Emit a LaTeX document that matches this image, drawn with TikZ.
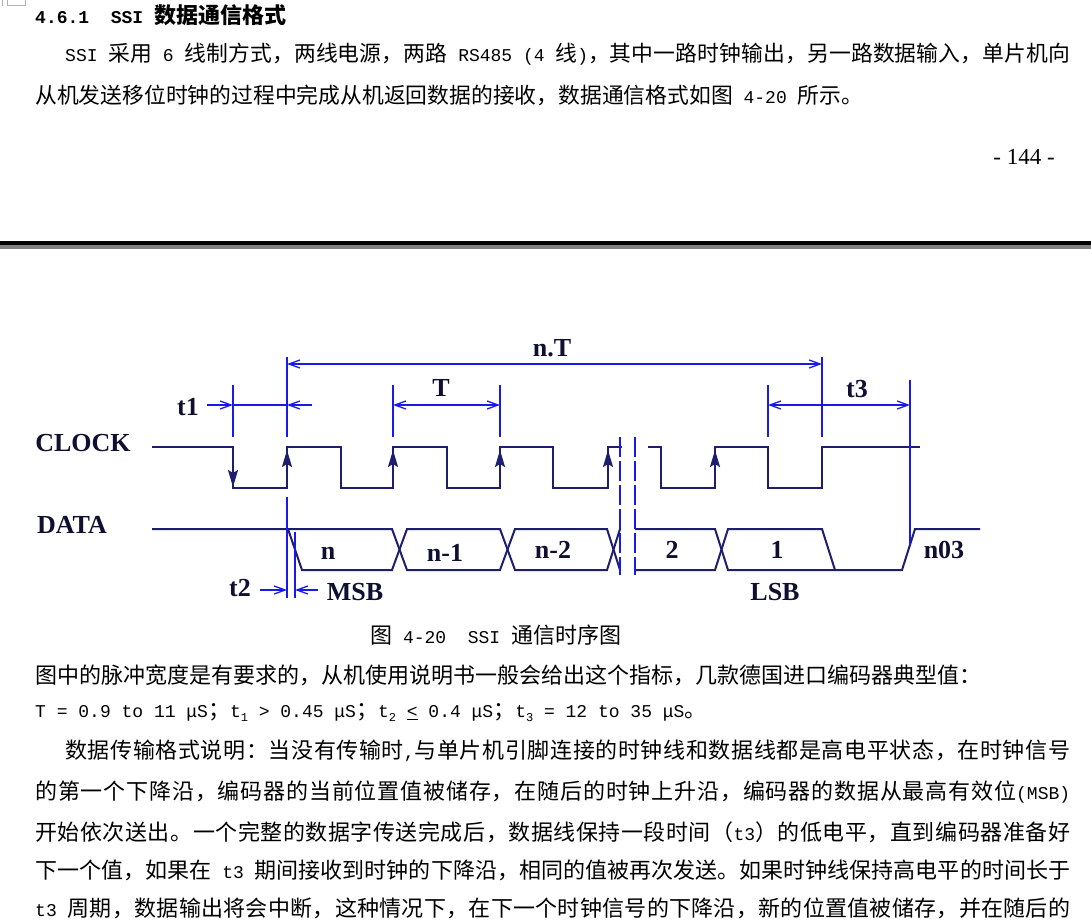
\documentclass[tikz,border=0pt]{standalone}
\usepackage{fontspec}
\setmainfont{Noto Sans CJK SC}
\newfontfamily\monofont{Liberation Mono}
\newfontfamily\timesfont{Liberation Serif}
\usetikzlibrary{arrows.meta}
% classes for CJK characters, so that justified lines can stretch
\newcount\cjkcode
\cjkcode="4E00
\loop \XeTeXcharclass\cjkcode=1 \advance\cjkcode by 1 \ifnum\cjkcode<"A000 \repeat
\XeTeXcharclass"FF0C=3 \XeTeXcharclass"FF1A=3 \XeTeXcharclass"FF1B=3
\XeTeXcharclass"3002=3 \XeTeXcharclass"FF09=3 \XeTeXcharclass"FF08=2
\newcommand\cjkglue{\hskip 0pt plus 1pt\relax}
\XeTeXinterchartokenstate=1
\XeTeXinterchartoks 1 1 = {\cjkglue}
\XeTeXinterchartoks 1 2 = {\cjkglue}
\XeTeXinterchartoks 1 3 = {\cjkglue}
\XeTeXinterchartoks 2 1 = {\cjkglue}
\XeTeXinterchartoks 3 1 = {\cjkglue}
\XeTeXinterchartoks 3 2 = {\cjkglue}
\XeTeXinterchartoks 0 1 = {\cjkglue}
\XeTeXinterchartoks 1 0 = {\cjkglue}
\XeTeXinterchartoks 3 0 = {\cjkglue}
\definecolor{wave}{RGB}{30,30,110}
\definecolor{dim}{RGB}{25,25,235}
\definecolor{lab}{RGB}{15,15,50}
\newcommand\hw[1]{{\monofont\fontsize{18}{18}\selectfont\spaceskip=\fontdimen2\font\xspaceskip=\fontdimen2\font\relax #1}}
\newcommand\sub[1]{\raisebox{-4pt}{\monofont\fontsize{12}{12}\selectfont #1}}
\tikzset{
  txt/.style={anchor=west, inner sep=0pt, font=\fontsize{22}{26}\selectfont},
  txtA/.style={txt, font=\fontsize{21.8}{26}\selectfont},
  lbl/.style={inner sep=0pt, text=lab, font=\timesfont\bfseries\fontsize{26}{26}\selectfont},
  sig/.style={draw=wave, line width=2pt, line join=miter},
  tick/.style={draw=dim, line width=2.6pt},
  dimline/.style={draw=dim, line width=1.3pt},
  dimtip/.style={dimline, -{Straight Barb[length=11pt,width=8pt]}},
  dimboth/.style={dimline, {Straight Barb[length=11pt,width=8pt]}-{Straight Barb[length=11pt,width=8pt]}},
  cut/.style={draw=dim, line width=1.5pt, dash pattern=on 20pt off 4pt},
  edgeup/.style={draw=wave, line width=2pt, -{Stealth[length=17pt,width=10pt,inset=3pt]}}
}
\begin{document}
\begin{tikzpicture}[x=1pt,y=-1pt]
\useasboundingbox (0,0) rectangle (1091,921);
\draw[gray!60, line width=0.8pt] (7,-1) rectangle (25,5);
\draw[gray!60, line width=0.8pt] (2,-1) -- (2,6);
% header and first paragraph
\node[txt] (head) at (35,15) {\bfseries\hw{\bfseries 4.6.1\ \ SSI }数据通信格式};
\node[txtA] (parA1) at (65,54) {\hbox to 1005pt{\hw{SSI }采用\hw{ 6 }线制方式，两线电源，两路\hw{ RS485 (4 }线\hw{)}，其中一路时钟输出，另一路数据输入，单片机向}};
\node[txtA] (parA2) at (35,95) {从机发送移位时钟的过程中完成从机返回数据的接收，数据通信格式如图\hw{ 4-20 }所示。};
\node[anchor=east, inner sep=0pt, font=\timesfont\fontsize{23}{23}\selectfont] (pagenum) at (1055,157) {- 144 -};
% page break rule
\fill[black] (0,241) rectangle (1091,245);
\fill[gray] (0,245) rectangle (1091,249);
% signal names
\node[lbl] (lclock) at (83,443) {CLOCK};
\node[lbl] (ldata) at (72,525) {DATA};
% clock
\draw[sig] (152,447) -- (233,447) -- (233,488) -- (287,488) -- (287,447) -- (341,447) -- (341,488) -- (393,488) -- (393,447) -- (447,447) -- (447,488) -- (500,488) -- (500,447) -- (553,447) -- (553,488) -- (608,488) -- (608,447) -- (622,447);
\draw[sig] (648,447) -- (661,447) -- (661,488) -- (715,488) -- (715,447) -- (768,447) -- (768,488) -- (822,488) -- (822,447) -- (920,447);
\foreach \x in {287,393,500,608,715}
  \draw[edgeup] (\x,476) -- (\x,450);
\draw[edgeup] (233,462) -- (233,487);
% data
\draw[sig] (152,529) -- (392,529) -- (407,570) -- (500,570) -- (515,529) -- (607,529) -- (620,570);
\draw[sig] (288,529) -- (302,570) -- (392,570) -- (407,529) -- (500,529) -- (515,570) -- (607,570) -- (620,529);
\draw[sig] (635,529) -- (715,529) -- (728,570) -- (902,570) -- (915,529) -- (980,529);
\draw[sig] (635,570) -- (715,570) -- (728,529) -- (822,529) -- (835,570);
% break
\draw[cut] (620,437) -- (620,575);
\draw[cut] (635,437) -- (635,575);
% timing marks
\draw[tick] (233,385) -- (233,437);
\draw[tick] (287,357) -- (287,437);
\draw[tick] (287,497) -- (287,598);
\draw[tick] (295,532) -- (295,598);
\draw[tick] (393,385) -- (393,437);
\draw[tick] (500,385) -- (500,437);
\draw[tick] (768,385) -- (768,437);
\draw[tick] (822,357) -- (822,437);
\draw[tick] (910,380) -- (910,545);
\draw[dimtip] (207,405) -- (233,405);
\draw[dimline] (233,405) -- (287,405);
\draw[dimtip] (312,405) -- (287,405);
\draw[dimboth] (393,405) -- (500,405);
\draw[dimboth] (287,364) -- (822,364);
\draw[dimboth] (768,405) -- (910,405);
\draw[dimtip] (260,590) -- (287,590);
\draw[dimtip] (318,590) -- (295,590);
% labels
\node[lbl] (lt1) at (188,407) {t1};
\node[lbl] (lT) at (441,388) {T};
\node[lbl] (lnT) at (552,348) {n.T};
\node[lbl] (lt3) at (857,389) {t3};
\node[lbl] (ln) at (328,553) {n};
\node[lbl] (ln1) at (445,553) {n-1};
\node[lbl] (ln2) at (553,550) {n-2};
\node[lbl] (lb2) at (672,550) {2};
\node[lbl] (lb1) at (777,550) {1};
\node[lbl] (ln03) at (944,550) {n03};
\node[lbl] (lt2) at (240,588) {t2};
\node[lbl] (lmsb) at (355,592) {MSB};
\node[lbl] (llsb) at (775,592) {LSB};
% caption and text below
\node[txt] (cap) at (370,635) {图\hw{ 4-20\ \ SSI }通信时序图};
\node[txt] (parB) at (35,675) {图中的脉冲宽度是有要求的，从机使用说明书一般会给出这个指标，几款德国进口编码器典型值：};
\node[txt] (spec) at (35,713) {\hw{T = 0.9 to 11 μS}；\hw{t}\sub{1}\hw{ > 0.45 μS}；\hw{t}\sub{2}\hw{ \underline{<} 0.4 μS}；\hw{t}\sub{3}\hw{ = 12 to 35 μS}。};
\node[txt] (parC1) at (65,751) {\hbox to 1005pt{数据传输格式说明：当没有传输时\hw{,}与单片机引脚连接的时钟线和数据线都是高电平状态，在时钟信号}};
\node[txt] (parC2) at (35,792) {\hbox to 1035pt{的第一个下降沿，编码器的当前位置值被储存，在随后的时钟上升沿，编码器的数据从最高有效位\hw{(MSB)}}};
\node[txt] (parC3) at (35,832) {\hbox to 1035pt{开始依次送出。一个完整的数据字传送完成后，数据线保持一段时间（\hw{t3}）的低电平，直到编码器准备好}};
\node[txt] (parC4) at (35,870) {\hbox to 1035pt{下一个值，如果在\hw{ t3 }期间接收到时钟的下降沿，相同的值被再次发送。如果时钟线保持高电平的时间长于}};
\node[txt] (parC5) at (35,908) {\hbox to 1035pt{\hw{t3 }周期，数据输出将会中断，这种情况下，在下一个时钟信号的下降沿，新的位置值被储存，并在随后的}};
\end{tikzpicture}
\end{document}
